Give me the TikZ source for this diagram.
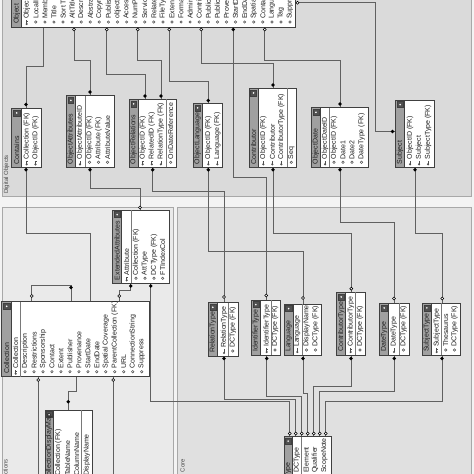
\documentclass[tikz,border=0pt]{standalone}
\usepackage{fontspec}
\setmainfont{Liberation Sans}

\definecolor{pagebg}{HTML}{F3F3F3}
\definecolor{objpanel}{HTML}{DADADA}
\definecolor{collpanel}{HTML}{EAEAEA}
\definecolor{dcpanel}{HTML}{E0E0E0}
\definecolor{panelline}{HTML}{A8A8A8}
\definecolor{tableline}{HTML}{404040}
\definecolor{titlegrey}{HTML}{A0A0A0}
\definecolor{icongrey}{HTML}{505050}
\definecolor{linegrey}{HTML}{606060}
\definecolor{textdark}{HTML}{1E1E1E}

% table frame: name, left, top, right, bottom, end of title bar, title
\newcommand{\dbtable}[7]{%
  \draw[table body] (#2,#3) rectangle (#4,#5);
  \draw[title bar] (#2,#3) rectangle (#6,#5);
  \draw[title icon] (#2+1.6,#3+1.6) rectangle (#6-1.6,#3+7.6);
  \fill[white] ({(#2+#6)/2},#3+4.6) circle (0.9);
  \node[title text] (#1) at ({(#2+#6)/2},#5-3) {#7};
}
% table rows: name, bottom, list of x/key/text
\newcommand{\dbfields}[3]{%
  \foreach \fx/\fk/\ft [count=\n] in {#3} {
    \ifnum\fk=1 \pic at (\fx,#2-5) {keyicon}; \else \pic at (\fx,#2-5) {colicon}; \fi
    \node[field text] (#1-\n) at (\fx,#2-8) {\ft};
  }
}

\begin{document}
\begin{tikzpicture}[
    x=1pt, y=-1pt,
    table body/.style={draw=tableline, fill=white, line width=0.8pt},
    title bar/.style={draw=tableline, fill=titlegrey, line width=0.8pt},
    title icon/.style={draw=tableline, fill=icongrey, line width=0.4pt},
    title text/.style={rotate=90, anchor=west, inner sep=0pt,
        font=\fontsize{7}{8}\selectfont, text=textdark},
    field text/.style={rotate=90, anchor=west, inner sep=0pt,
        font=\fontsize{7}{8}\selectfont, text=textdark},
    divider/.style={draw=tableline!70, line width=0.6pt},
    relation/.style={draw=linegrey, line width=0.8pt},
    fk dot/.style={fill=black},
    pk end/.style={draw=black, fill=white, line width=0.6pt},
    panel/.style={draw=panelline, line width=0.6pt},
    panel label/.style={rotate=90, inner sep=0pt,
        font=\fontsize{6}{7}\selectfont, text=textdark!80},
    keyicon/.pic={
        \draw[icongrey, line width=0.7pt] (0,2) -- (0,-1.6) (0,-0.8) -- (1,-0.8);
        \fill[icongrey] (0,2) circle (1.2);},
    colicon/.pic={
        \fill[icongrey] (0,0) circle (1.6);
        \fill[white] (0,0) circle (0.6);}
    ]
    \useasboundingbox (0,0) rectangle (474,474);
    \clip (0,0) rectangle (474,474);
    % panels
    \fill[pagebg] (0,0) rectangle (474,474);
    \draw[panel, fill=objpanel] (2.5,-5) rectangle (471,196.7);
    \draw[panel, fill=collpanel] (2,207) rectangle (173,480);
    \draw[panel, fill=dcpanel] (177,207) rectangle (471,480);
    \node[panel label, anchor=west] (do-label) at (6.5,194) {Digital Objects};
    \node[panel label, anchor=east] (coll-label) at (5.5,459) {Collections};
    \node[panel label, anchor=east] (dc-label) at (182.5,459) {Dublin Core};

    % connection points on the table edges
    \coordinate (o-con) at (43.3,27);
    \coordinate (o-att) at (74,27);
    \coordinate (o-rel1) at (106.7,27);
    \coordinate (o-rel2) at (137.7,27);
    \coordinate (o-lang) at (169.3,27);
    \coordinate (o-contr) at (201.3,27);
    \coordinate (o-ident) at (233.3,27);
    \coordinate (o-date) at (264.7,27);
    \coordinate (o-subj) at (295,2.7);
    \coordinate (con-top) at (26,108.3);
    \coordinate (con-bot) at (26,167.3);
    \coordinate (att-top) at (90,95.7);
    \coordinate (att-bot) at (90,167.3);
    \coordinate (rel-top1) at (145,99.3);
    \coordinate (rel-top2) at (161,99.3);
    \coordinate (rel-bot) at (152.7,167.3);
    \coordinate (olang-top) at (208.3,103.3);
    \coordinate (olang-bot) at (208.3,167.3);
    \coordinate (contr-top) at (273,88.3);
    \coordinate (contr-bot) at (273,167.3);
    \coordinate (odate-top) at (340,107.7);
    \coordinate (odate-bot) at (340,167.3);
    \coordinate (subj-left) at (395.7,131.5);
    \coordinate (subj-bot) at (415,167.3);
    \coordinate (ext-top) at (140,210);
    \coordinate (ext-bot1) at (130.7,283.3);
    \coordinate (ext-bot2) at (150.7,283.3);
    \coordinate (coll-in) at (90.7,301.7);
    \coordinate (coll-p1) at (31.7,301.7);
    \coordinate (coll-p2) at (71,301.7);
    \coordinate (coll-p3) at (119.3,301.7);
    \coordinate (coll-b1) at (76,376.7);
    \coordinate (coll-b2) at (38.3,376.7);
    \coordinate (coll-b3) at (113.3,376.7);
    \coordinate (coll-out2) at (38.3,480);
    \coordinate (coll-out3) at (113.3,480);
    \coordinate (cdm-top) at (68.3,410);
    \coordinate (rt-top) at (224,302.7);
    \coordinate (rt-bot) at (224,356);
    \coordinate (it-top) at (266.3,300);
    \coordinate (it-bot) at (266.7,355);
    \coordinate (lg-top) at (303,304);
    \coordinate (lg-bot) at (303,355);
    \coordinate (ct-top) at (351.3,292.3);
    \coordinate (ct-bot) at (351,355);
    \coordinate (dt-top) at (394,303.3);
    \coordinate (dt-bot) at (394.3,355);
    \coordinate (st-top) at (442.3,303.3);
    \coordinate (st-bot) at (442,355);
    \foreach \i/\x in {1/289.7,2/295.7,3/301.7,4/307.7,5/313.7,6/319.7,7/325.7}
        \coordinate (type-in\i) at (\x,436.5);

    % relations
    \draw[relation] (o-con) -- (o-con |- 0,66.7) -| (con-top);
    \draw[relation] (o-att) -- (o-att |- 0,60) -| (att-top);
    \draw[relation] (o-rel1) -- (o-rel1 |- 0,74) -| (rel-top1);
    \draw[relation] (o-rel2) -- (o-rel2 |- 0,60.7) -| (rel-top2);
    \draw[relation] (o-lang) -- (o-lang |- 0,81.7) -| (olang-top);
    \draw[relation] (o-contr) -- (o-contr |- 0,63.3) -| (contr-top);
    \draw[relation] (o-ident) -- (o-ident |- 0,177.7) -| (it-top);
    \draw[relation] (o-date) -- (o-date |- 0,60) -| (odate-top);
    \draw[relation] (o-subj) -- (375.7,2.7) |- (subj-left);
    \draw[relation] (con-bot) -- (con-bot |- 0,233) -| (coll-in);
    \draw[relation] (att-bot) -- (att-bot |- 0,188.3) -| (ext-top);
    \draw[relation] (rel-bot) -- (rel-bot |- 0,191) -| (rt-top);
    \draw[relation] (olang-bot) -- (olang-bot |- 0,251.7) -| (lg-top);
    \draw[relation] (contr-bot) -- (contr-bot |- 0,233) -| (ct-top);
    \draw[relation] (odate-bot) -- (odate-bot |- 0,222.5) -| (dt-top);
    \draw[relation] (subj-bot) -- (subj-bot |- 0,233) -| (st-top);
    \draw[relation] (coll-p1) -- (coll-p1 |- 0,285) -| (coll-p2);
    \draw[relation] (ext-bot1) -- (ext-bot1 |- 0,290) -| (coll-p3);
    \draw[relation] (ext-bot2) -- (ext-bot2 |- 0,401.7) -| (type-in1);
    \draw[relation] (rt-bot) -- (rt-bot |- 0,399) -| (type-in2);
    \draw[relation] (it-bot) -- (it-bot |- 0,396) -| (type-in3);
    \draw[relation] (lg-bot) -- (lg-bot |- 0,393.5) -| (type-in4);
    \draw[relation] (ct-bot) -- (ct-bot |- 0,386.7) -| (type-in5);
    \draw[relation] (dt-bot) -- (dt-bot |- 0,391) -| (type-in6);
    \draw[relation] (st-bot) -- (st-bot |- 0,401) -| (type-in7);
    \draw[relation] (coll-b1) -- (coll-b1 |- 0,391) -| (cdm-top);
    \draw[relation] (coll-b2) -- (coll-out2);
    \draw[relation] (coll-b3) -- (coll-out3);

    % Object table
    \dbtable{object}{11.7}{-80}{295}{27}{21.7}{Object}
    \dbfields{object}{27}{26.7/1/ObjectID, 35.8/0/LocalID, 44.9/0/MemberOf,
        53.9/0/Title, 63/0/Sort Title, 72.1/0/AltTitle, 81.2/0/Description,
        90.3/0/Abstract, 99.3/0/Copyright, 108.4/0/Publisher,
        117.5/0/objectCategory, 126.6/0/AccessRights, 135.7/0/NumPages,
        144.7/0/ServiceURL, 153.8/0/RelatedURL, 162.9/0/FileType,
        172/0/Extent, 181.1/0/Format, 190.1/0/AdminNote, 199.2/0/Contributors,
        208.3/0/PublicationPlace, 217.4/0/PublicationDate, 226.5/0/Provenance,
        235.5/0/StartDate, 244.6/0/EndDate, 253.7/0/Spatial, 262.8/0/Container,
        271.9/0/LanguageNote, 280.9/0/Tag, 290/0/Suppress}

    % Digital Objects tables
    \dbtable{contains}{11.7}{108.3}{41.7}{167.3}{21.7}{Contains}
    \dbfields{contains}{167.3}{26.7/1/Collection (FK), 35.5/1/ObjectID (FK)}
    \dbtable{objattr}{66.7}{95.7}{114}{167.3}{75}{ObjectAttributes}
    \dbfields{objattr}{167.3}{80/1/ObjectAttributeID, 89.5/0/ObjectID (FK),
        98.5/0/Attribute (FK), 107.5/0/AttributeValue}
    \draw[divider] (84.8,95.7) -- (84.8,167.3);
    \dbtable{objrel}{129.3}{99.3}{176.7}{167.3}{138}{ObjectRelations}
    \dbfields{objrel}{167.3}{142.7/1/ObjectID (FK), 151.8/1/RelatedID (FK),
        160.9/1/RelationType (FK), 170.7/0/OnDateReference}
    \draw[divider] (166,99.3) -- (166,167.3);
    \dbtable{objlang}{193.3}{103.3}{222.7}{167.3}{202}{ObjectLanguage}
    \dbfields{objlang}{167.3}{208.3/1/ObjectID (FK), 217.3/1/Language (FK)}
    \dbtable{contrib}{249}{88.3}{296.3}{167.3}{258}{Contributor}
    \dbfields{contrib}{167.3}{263.3/1/ObjectID (FK), 272.3/1/Contributor,
        281.3/1/ContributorType (FK), 291.3/0/Seq}
    \draw[divider] (287,88.3) -- (287,167.3);
    \dbtable{objdate}{311.3}{107.7}{368}{167.3}{320.5}{ObjectDate}
    \dbfields{objdate}{167.3}{325/1/ObjectDateID, 334/0/ObjectID (FK),
        343/0/Date1, 352/0/Date2, 361.5/0/DateType (FK)}
    \draw[divider] (329.7,107.7) -- (329.7,167.3);
    \dbtable{subject}{395.7}{100}{434}{167.3}{404.5}{Subject}
    \dbfields{subject}{167.3}{410/1/ObjectID (FK), 419/1/Subject,
        428/1/SubjectType (FK)}

    % Collections tables
    \dbtable{extattr}{112.7}{210}{169}{283.3}{121.7}{ExtendedAttributes}
    \dbfields{extattr}{283.3}{126.7/1/Attribute, 136/0/Collection (FK),
        145/0/AttType, 154/0/DCType (FK), 162.7/0/FTIndexCol}
    \draw[divider] (131.5,210) -- (131.5,283.3);
    \dbtable{collection}{1.7}{301.7}{149}{376.7}{11.7}{Collection}
    \dbfields{collection}{376.7}{15.7/1/Collection, 25/0/Description,
        34/0/Restrictions, 43/0/Sponsorship, 51.9/0/Contact, 60.9/0/Extent,
        69.9/0/Publisher, 78.9/0/Provenance, 87.9/0/StartDate, 96.8/0/EndDate,
        105.8/0/Spatial Coverage, 114.8/0/ParentCollection (FK), 123.8/0/URL,
        132.8/0/ConnectionString, 141.7/0/Suppress}
    \draw[divider] (20.5,301.7) -- (20.5,376.7);
    \dbtable{colldisp}{45}{410}{92.7}{484}{53.3}{CollectionDisplayMap}
    \dbfields{colldisp}{484}{58.3/1/Collection (FK), 67.5/1/TableName,
        76.7/1/ColumnName, 86.7/0/DisplayName}
    \draw[divider] (81.7,410) -- (81.7,484);

    % Dublin Core tables
    \dbtable{reltype}{208.3}{302.7}{238.3}{356}{217.3}{RelationType}
    \dbfields{reltype}{356}{224/1/RelationType, 232.7/0/DCType (FK)}
    \draw[divider] (228.5,302.7) -- (228.5,356);
    \dbtable{identtype}{251.3}{300}{280.7}{355}{260.3}{IdentifierType}
    \dbfields{identtype}{355}{266.7/1/IdentifierType, 275/0/DCType (FK)}
    \draw[divider] (270.8,300) -- (270.8,355);
    \dbtable{language}{284}{304}{321.3}{355}{293.3}{Language}
    \dbfields{language}{355}{297.3/1/Language, 306.5/0/DisplayName,
        315.5/0/DCType (FK)}
    \draw[divider] (302,304) -- (302,355);
    \dbtable{contrtype}{336.7}{292.3}{365.7}{355}{345.7}{ContributorType}
    \dbfields{contrtype}{355}{350.7/1/ContributorType, 360/0/DCType (FK)}
    \draw[divider] (355.3,292.3) -- (355.3,355);
    \dbtable{datetype}{379.7}{303.3}{409}{355}{388.7}{DateType}
    \dbfields{datetype}{355}{394/1/DateType, 403.5/0/DCType (FK)}
    \draw[divider] (398.8,303.3) -- (398.8,355);
    \dbtable{subjtype}{422.3}{303.3}{460.7}{355}{431.3}{SubjectType}
    \dbfields{subjtype}{355}{436.7/1/SubjectType, 445.7/0/Thesaurus,
        454.5/0/DCType (FK)}
    \draw[divider] (441.2,303.3) -- (441.2,355);
    \dbtable{type}{284}{436.5}{331.3}{481}{292.3}{Type}
    \dbfields{type}{481}{297/1/DCType, 306/0/Element, 315/0/Qualifier,
        324.5/0/ScopeNote}
    \draw[divider] (301.5,436.5) -- (301.5,481);

    % relation ends
    \foreach \x/\y in {26/104.5, 90/92, 145/96, 161/96, 208.3/100.5, 273/85,
        340/104, 392.5/131.5, 233.3/29.5, 26/169.8, 90/169.8, 152.7/169.8,
        208.3/169.8, 273/169.8, 340/169.8, 415/169.8, 130.7/286, 150.7/286,
        71/287.5, 68.3/401.7, 224/358.5, 266.7/358.5, 303/358.5, 351/358.5,
        394.3/358.5, 442/358.5}
        \fill[fk dot] (\x,\y) circle (1.9);
    \foreach \x/\y in {74/29.5, 106.7/29.5, 137.7/29.5, 169.3/29.5, 201.3/29.5,
        264.7/29.5, 297.5/2.7, 140/207.5, 31.7/296, 119.3/296, 224/297,
        266.3/295.5, 303/298, 351.3/288.7, 394/298.5, 442.3/298.5,
        38.3/380, 113.3/380, 289.7/433.5, 295.7/433.5, 301.7/433.5,
        307.7/433.5, 313.7/433.5, 319.7/433.5, 325.7/433.5}
        \draw[pk end] (\x,\y) circle (1.5);
\end{tikzpicture}
\end{document}
